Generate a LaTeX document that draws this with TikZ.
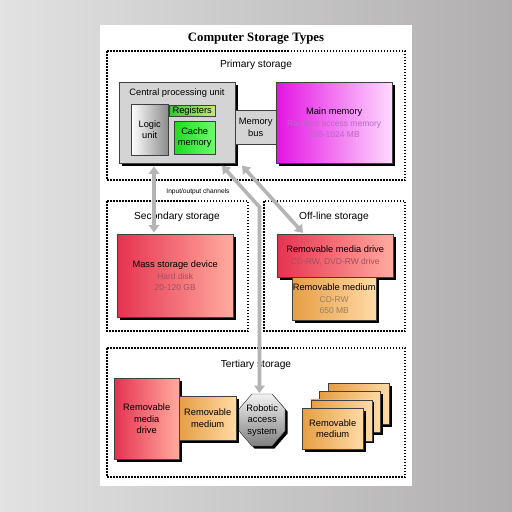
\documentclass[tikz,border=0pt]{standalone}
\usepackage{fontspec}
\setmainfont{Liberation Serif}
\setsansfont{Liberation Sans}
\usetikzlibrary{shadows,arrows.meta,calc}
\definecolor{bgL}{RGB}{226,226,226}
\definecolor{bgR}{RGB}{176,174,174}
\definecolor{cpuF}{RGB}{212,212,212}
\definecolor{logR}{RGB}{140,140,140}
\definecolor{regL}{RGB}{50,200,50}
\definecolor{regR}{RGB}{205,232,110}
\definecolor{cacL}{RGB}{30,220,30}
\definecolor{cacR}{RGB}{110,250,110}
\definecolor{magL}{RGB}{228,20,228}
\definecolor{magR}{RGB}{255,218,255}
\definecolor{redL}{RGB}{230,50,80}
\definecolor{redR}{RGB}{255,172,158}
\definecolor{orL}{RGB}{230,158,68}
\definecolor{orR}{RGB}{255,218,165}
\definecolor{arrG}{RGB}{180,180,180}
\definecolor{magSub}{RGB}{185,105,195}
\definecolor{redSub}{RGB}{165,80,95}
\definecolor{orSub}{RGB}{155,125,95}
\newcommand{\mainf}{\sffamily\fontsize{9.3}{11.5}\selectfont}
\newcommand{\subl}[2]{{\fontsize{8.5}{11.5}\selectfont\color{#1}#2}}
\begin{document}
\begin{tikzpicture}[x=1pt,y=-1pt,
  dotbox/.style={draw=black, line width=1.5pt, dash pattern=on 1.5pt off 1.5pt},
  head/.style={font=\sffamily\fontsize{10.2}{12}\selectfont},
  blk/.style={draw=black!75, line width=0.4pt, anchor=north west, inner sep=0pt,
    align=center, font=\mainf},
  shad/.style={drop shadow={shadow xshift=2.5pt, shadow yshift=-2.5pt, opacity=1, fill=black}},
  redbox/.style={blk, shad, left color=redL, right color=redR},
  orbox/.style={blk, shad, left color=orL, right color=orR},
  io/.style={draw=arrG, line width=3.6pt, line join=miter,
    {Triangle[width=10.5pt,length=7.5pt]}-{Triangle[width=10.5pt,length=7.5pt]}}
]
\useasboundingbox (0,0) rectangle (512,512);
\shade[left color=bgL, right color=bgR] (0,0) rectangle (512,512);
\fill[white] (100,25) rectangle (412,486);

\node[font=\bfseries\fontsize{12.8}{14}\selectfont] (title) at (256,39) {Computer Storage Types};

% dotted groups
\draw[dotbox] (107,51) rectangle (405,180);
\draw[dotbox] (107,201) rectangle (248,331);
\draw[dotbox] (264,201) rectangle (405,331);
\draw[dotbox] (107,348) rectangle (405,477);
\node[head] (prim) at (256,65) {Primary storage};
\node[head] (sec) at (177,217) {Secondary storage};
\node[head] (off) at (334,217) {Off-line storage};
\node[head] (ter) at (256,365) {Tertiary storage};

% primary
\node[blk, shad, fill=cpuF, minimum width=116pt, minimum height=81pt] (cpu) at (119,82) {};
\node[font=\mainf] (cputxt) at (177,93) {Central processing unit};
\node[blk, left color=white, right color=logR, minimum width=37pt, minimum height=51pt] (logic) at (131,104) {Logic\\unit};
\node[blk, left color=regL, right color=regR, minimum width=46pt, minimum height=11pt] (reg) at (169,105) {Registers};
\node[blk, left color=cacL, right color=cacR, minimum width=41pt, minimum height=33pt] (cache) at (174,121) {Cache\\memory};
\node[blk, fill=cpuF, minimum width=41pt, minimum height=34pt] (bus) at (235,110) {Memory\\bus};
\node[blk, shad, left color=magL, right color=magR, minimum width=116pt, minimum height=81pt] (mem) at (276,82)
  {Main memory\\\subl{magSub}{Random access memory}\\\subl{magSub}{256-1024 MB}};

\node[font=\sffamily\fontsize{6.6}{8}\selectfont] (iotxt) at (198,192) {Input/output channels};

% secondary
\node[redbox, minimum width=116pt, minimum height=83pt] (mass) at (117,234)
  {Mass storage device\\\subl{redSub}{Hard disk}\\\subl{redSub}{20-120 GB}};

% off-line
\node[redbox, minimum width=116pt, minimum height=43pt] (odrive) at (277,234)
  {Removable media drive\\\subl{redSub}{CD-RW, DVD-RW drive}};
\node[orbox, minimum width=84pt, minimum height=43pt] (omed) at (292,277)
  {Removable medium\\\subl{orSub}{CD-RW}\\\subl{orSub}{650 MB}};

% tertiary
\node[redbox, minimum width=65pt, minimum height=81pt] (tdrive) at (114,378) {Removable\\media\\drive};
\node[orbox, minimum width=57pt, minimum height=44pt] (tmed) at (179,396) {Removable\\medium};
\filldraw[draw=black!75, line width=0.4pt, shad, top color=black!5, bottom color=black!50]
  (252,394) -- (272,394) -- (285,409) -- (285,431) -- (272,446) -- (252,446) -- (239,431) -- (239,409) -- cycle;
\node[font=\mainf, align=center, minimum width=46pt, minimum height=52pt, inner sep=0pt, anchor=north west] (robot) at (239,394) {Robotic\\access\\system};
\node[orbox, minimum width=61pt, minimum height=41pt] (s4) at (328.1,383.1) {};
\node[orbox, minimum width=61pt, minimum height=41pt] (s3) at (319.4,391.4) {};
\node[orbox, minimum width=61pt, minimum height=41pt] (s2) at (310.7,399.7) {};
\node[orbox, minimum width=61pt, minimum height=41pt] (s1) at (302,408) {Removable\\medium};

% channels
\draw[io, shorten <=3pt, shorten >=1.5pt] ([xshift=35pt]cpu.south west) -- ([xshift=37pt]mass.north west);
\coordinate (bend) at (259.5,207);
\draw[io, shorten <=3pt, shorten >=1pt] ([xshift=101pt]cpu.south west) -- (bend) -- (bend |- robot.north);
\draw[io, shorten <=3pt, shorten >=1.5pt] ([xshift=121pt]cpu.south west) -- ([xshift=27pt]odrive.north west);
\end{tikzpicture}
\end{document}
